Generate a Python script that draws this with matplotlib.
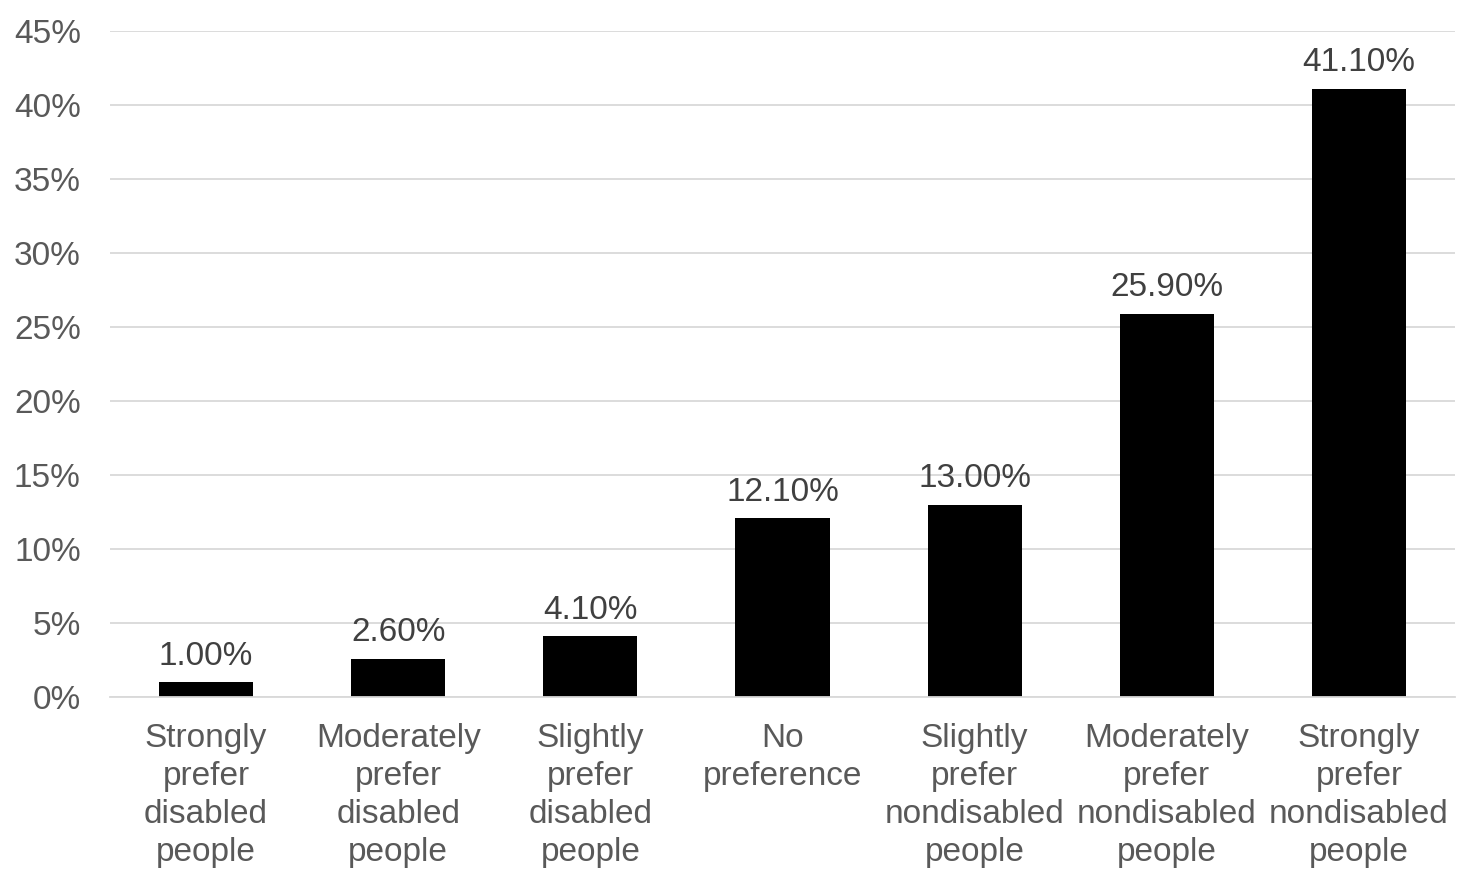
"""Preferência implícita: distribuição das respostas (barras com rótulos %)."""

import matplotlib

matplotlib.use("Agg")
import matplotlib.pyplot as plt  # noqa: E402
from matplotlib.ticker import FuncFormatter, MultipleLocator  # noqa: E402

# --------------------------------------------------------------------------- #
# Dados
# --------------------------------------------------------------------------- #
CATEGORIES = [
    "Strongly\nprefer\ndisabled\npeople",
    "Moderately\nprefer\ndisabled\npeople",
    "Slightly\nprefer\ndisabled\npeople",
    "No\npreference",
    "Slightly\nprefer\nnondisabled\npeople",
    "Moderately\nprefer\nnondisabled\npeople",
    "Strongly\nprefer\nnondisabled\npeople",
]
PERCENTS = [1.00, 2.60, 4.10, 12.10, 13.00, 25.90, 41.10]

TICK_COLOR = "#595959"
LABEL_COLOR = "#404040"
GRID_COLOR = "#d9d9d9"
FONT_SIZE = 24

plt.rcParams["font.family"] = ["Liberation Sans", "DejaVu Sans"]

fig = plt.figure(figsize=(14.82, 8.85), dpi=100)
ax = fig.add_axes([0.0742, 0.2124, 0.9076, 0.7526])

x = range(len(CATEGORIES))
bars = ax.bar(x, PERCENTS, width=0.49, color="black", zorder=2)

for rect, val in zip(bars, PERCENTS):
    ax.text(rect.get_x() + rect.get_width() / 2, val + 0.7, f"{val:.2f}%",
            ha="center", va="bottom", fontsize=FONT_SIZE, color=LABEL_COLOR,
            zorder=3)

ax.set_xlim(-0.5, len(CATEGORIES) - 0.5)
ax.set_ylim(0, 45)
ax.yaxis.set_major_locator(MultipleLocator(5))
ax.yaxis.set_major_formatter(FuncFormatter(lambda v, _: f"{v:.0f}%"))
ax.set_xticks(list(x))
ax.set_xticklabels(CATEGORIES, linespacing=1.28)

ax.grid(axis="y", color=GRID_COLOR, linewidth=1.3, zorder=0)
ax.set_axisbelow(True)
for side in ("top", "right", "left"):
    ax.spines[side].set_visible(False)
ax.spines["bottom"].set_color(GRID_COLOR)
ax.spines["bottom"].set_linewidth(1.3)

ax.tick_params(axis="both", length=0, labelsize=FONT_SIZE, labelcolor=TICK_COLOR)
ax.tick_params(axis="x", pad=19)
ax.tick_params(axis="y", pad=21)

fig.savefig("out.png", dpi=100)
plt.close(fig)
